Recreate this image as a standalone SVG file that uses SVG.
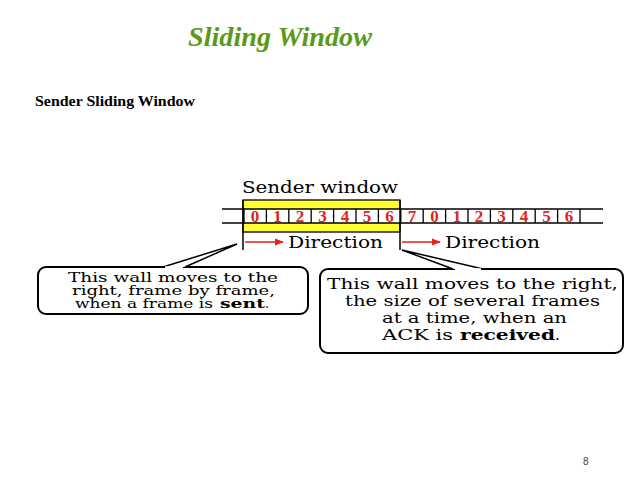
<svg xmlns="http://www.w3.org/2000/svg" width="638" height="478" viewBox="0 0 638 478">
<style>
.serif{font-family:"Liberation Serif","Times New Roman",serif}
.wide{font-family:"DejaVu Serif","Liberation Serif",serif;fill:#000}
.dig{font-family:"Liberation Serif",serif;font-weight:bold;font-size:17px;fill:#e2231a;text-anchor:middle}
.cell{fill:none;stroke:#000;stroke-width:1.3}
.line{stroke:#000;stroke-width:1.5;fill:none}
.box{fill:#fff;stroke:#000;stroke-width:2}
.l{font-size:12.5px}
.r{font-size:15.5px}
.arr{stroke:#e2231a;stroke-width:1.3}
</style>
<defs>
<marker id="ah" viewBox="0 0 10 10" refX="9" refY="5" markerWidth="9" markerHeight="9" markerUnits="userSpaceOnUse" orient="auto">
<path d="M0,1 L10,5 L0,9 z" fill="#e2231a"/>
</marker>
</defs>
<rect width="638" height="478" fill="#fff"/>
<text x="188" y="46" class="serif" font-size="28" font-weight="bold" font-style="italic" fill="#5b9a17" textLength="184" lengthAdjust="spacingAndGlyphs">Sliding Window</text>
<text x="35" y="106" class="serif" font-size="15.5" font-weight="bold" fill="#000" textLength="160" lengthAdjust="spacingAndGlyphs">Sender Sliding Window</text>
<text x="583" y="465" font-family="Liberation Sans,Arial,sans-serif" font-size="10" fill="#444">8</text>

<g id="window">
<text x="242" y="193" class="wide" font-size="16" textLength="156" lengthAdjust="spacingAndGlyphs">Sender window</text>
<rect x="243" y="200" width="157" height="32" fill="#ffff33" stroke="#000" stroke-width="1.3"/>
<rect x="244" y="209" width="156" height="14" fill="#fff"/>
<line x1="222" y1="209" x2="603" y2="209" class="line"/>
<line x1="222" y1="223" x2="603" y2="223" class="line"/>
<g class="cell">
<path d="M244,209V223M266.4,209V223M288.8,209V223M311.2,209V223M333.6,209V223M356,209V223M378.4,209V223M400.8,209V223M423.2,209V223M445.6,209V223M468,209V223M490.4,209V223M512.8,209V223M535.2,209V223M557.6,209V223M580,209V223"/>
</g>
<text y="221.5" class="dig"><tspan x="255">0</tspan><tspan x="277.5">1</tspan><tspan x="300">2</tspan><tspan x="322.5">3</tspan><tspan x="345">4</tspan><tspan x="367">5</tspan><tspan x="389.5">6</tspan><tspan x="412">7</tspan><tspan x="434.5">0</tspan><tspan x="457">1</tspan><tspan x="479">2</tspan><tspan x="501.5">3</tspan><tspan x="524">4</tspan><tspan x="546.5">5</tspan><tspan x="569">6</tspan></text>
<line x1="243" y1="200" x2="243" y2="250" class="line"/>
<line x1="400" y1="200" x2="400" y2="250" class="line"/>
</g>

<g id="direction1">
<line x1="245" y1="242" x2="283" y2="242" class="arr" marker-end="url(#ah)"/>
<text x="288" y="248" class="wide" font-size="16" textLength="95" lengthAdjust="spacingAndGlyphs">Direction</text>
</g>
<g id="direction2">
<line x1="402" y1="242" x2="440" y2="242" class="arr" marker-end="url(#ah)"/>
<text x="445" y="248" class="wide" font-size="16" textLength="95" lengthAdjust="spacingAndGlyphs">Direction</text>
</g>

<g id="callout-left">
<rect x="38" y="267" width="270" height="47" rx="8" class="box"/>
<path d="M163,267 L237,244 L185,267" fill="#fff" stroke="#000" stroke-width="1.5"/>
<line x1="165" y1="267.5" x2="183" y2="267.5" stroke="#fff" stroke-width="2.5"/>
<text x="68" y="282" class="wide l" textLength="210" lengthAdjust="spacingAndGlyphs">This wall moves to the</text>
<text x="72" y="295" class="wide l" textLength="203" lengthAdjust="spacingAndGlyphs">right, frame by frame,</text>
<text x="75" y="308" class="wide l" textLength="138" lengthAdjust="spacingAndGlyphs">when a frame is</text>
<text x="220" y="308" class="wide l" font-weight="bold" textLength="45" lengthAdjust="spacingAndGlyphs">sent</text>
<text x="265" y="308" class="wide l">.</text>
</g>

<g id="callout-right">
<rect x="320" y="269" width="303" height="84" rx="8" class="box"/>
<path d="M453,269 L402,250 L483,269" fill="#fff" stroke="#000" stroke-width="1.5"/>
<line x1="455" y1="269.5" x2="481" y2="269.5" stroke="#fff" stroke-width="2.5"/>
<text x="327" y="289" class="wide r" textLength="291" lengthAdjust="spacingAndGlyphs">This wall moves to the right,</text>
<text x="345" y="306" class="wide r" textLength="255" lengthAdjust="spacingAndGlyphs">the size of several frames</text>
<text x="382" y="323" class="wide r" textLength="185" lengthAdjust="spacingAndGlyphs">at a time, when an</text>
<text x="382" y="340" class="wide r" textLength="71" lengthAdjust="spacingAndGlyphs">ACK is</text>
<text x="460" y="340" class="wide r" font-weight="bold" textLength="95" lengthAdjust="spacingAndGlyphs">received</text>
<text x="555" y="340" class="wide r">.</text>
</g>
</svg>
